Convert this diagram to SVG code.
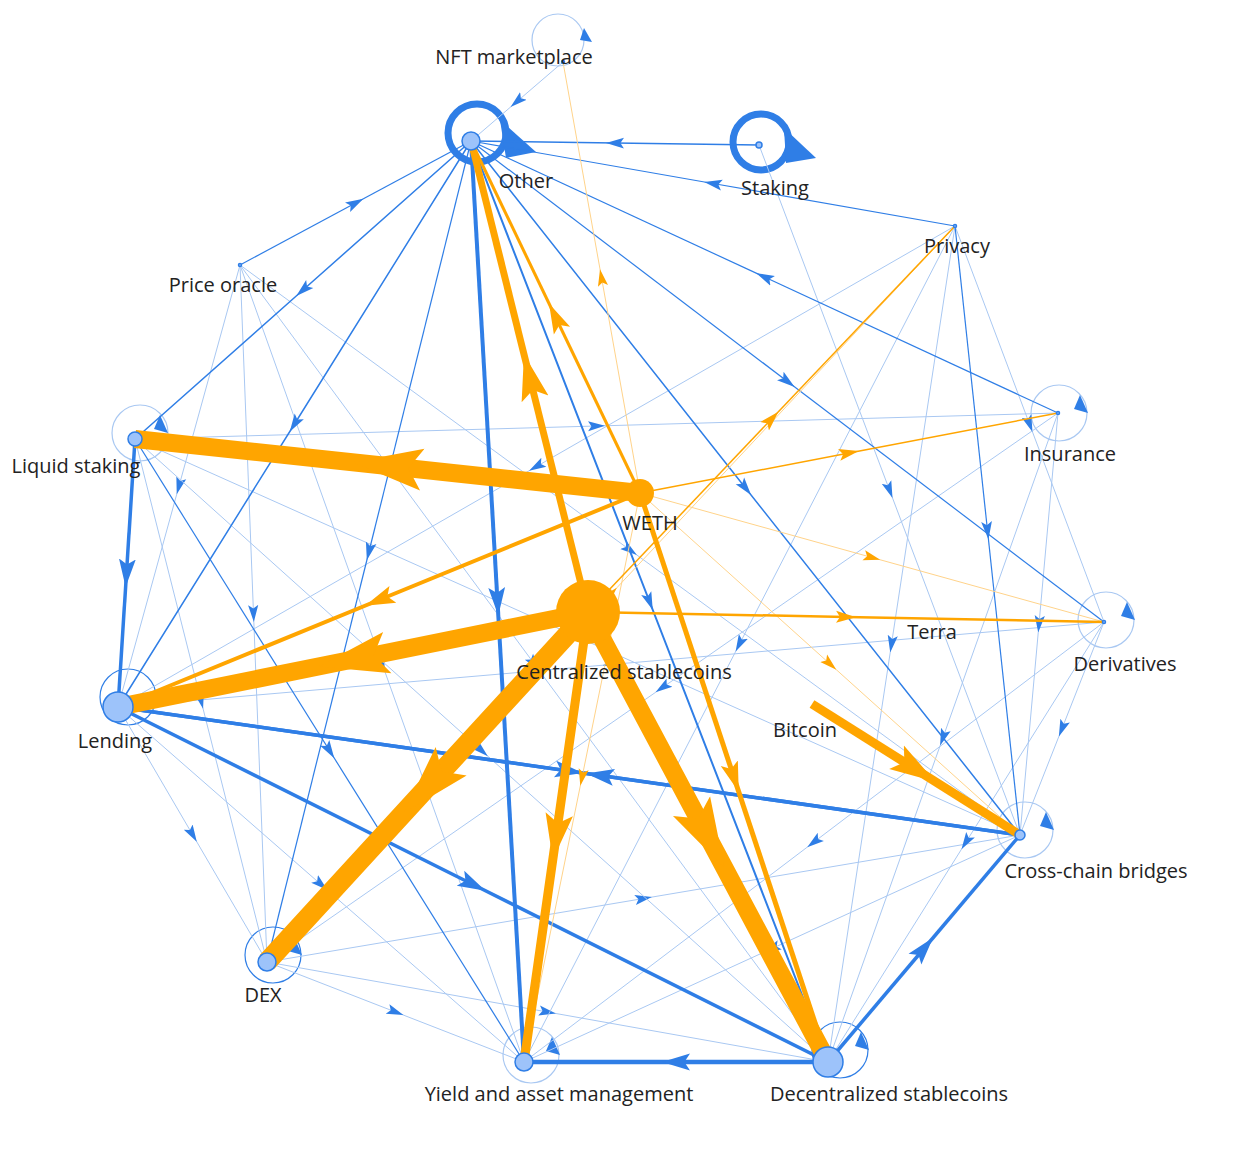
<svg xmlns="http://www.w3.org/2000/svg" width="1248" height="1151" viewBox="0 0 1248 1151">
<style>
.lb{stroke:#A9C8F2;stroke-width:1;fill:none;marker-mid:url(#alb)}
.b1{stroke:#2F7EE6;stroke-width:1.2;fill:none;marker-mid:url(#ab1)}
.b3{stroke:#2F7EE6;stroke-width:3.5;fill:none;marker-mid:url(#ab2)}
.lo{stroke:#FFD38A;stroke-width:1;fill:none;marker-mid:url(#alo)}
.o1{stroke:#FFA500;stroke-width:1.5;fill:none;marker-mid:url(#ao1)}
.o4{stroke:#FFA500;stroke-width:4;fill:none;marker-mid:url(#ao2)}
.o10{stroke:#FFA500;stroke-width:9;fill:none;marker-mid:url(#ao3)}
.o18{stroke:#FFA500;stroke-width:18;fill:none;marker-mid:url(#ao4)}
.loop{fill:none;stroke:#A9C8F2;stroke-width:1.2}
.nd{fill:#9DC3FA;stroke:#2F7EE6;stroke-width:1.5}
.lab{font-family:"Open Sans","Liberation Sans",sans-serif;font-size:20px;fill:#222}
</style>
<defs>
<marker id="alb" viewBox="0 -10 20 20" refX="10" refY="0" markerUnits="userSpaceOnUse" markerWidth="17" markerHeight="17" orient="auto"><path d="M0,-6L20,0L0,6L4,0z" fill="#2F7EE6"/></marker>
<marker id="ab1" viewBox="0 -10 20 20" refX="10" refY="0" markerUnits="userSpaceOnUse" markerWidth="18" markerHeight="18" orient="auto"><path d="M0,-6L20,0L0,6L4,0z" fill="#2F7EE6"/></marker>
<marker id="ab2" viewBox="0 -10 20 20" refX="10" refY="0" markerUnits="userSpaceOnUse" markerWidth="28" markerHeight="28" orient="auto"><path d="M0,-6L20,0L0,6L4,0z" fill="#2F7EE6"/></marker>
<marker id="alo" viewBox="0 -10 20 20" refX="10" refY="0" markerUnits="userSpaceOnUse" markerWidth="17" markerHeight="17" orient="auto"><path d="M0,-6L20,0L0,6L4,0z" fill="#FFA500"/></marker>
<marker id="ao1" viewBox="0 -10 20 20" refX="10" refY="0" markerUnits="userSpaceOnUse" markerWidth="20" markerHeight="20" orient="auto"><path d="M0,-6L20,0L0,6L4,0z" fill="#FFA500"/></marker>
<marker id="ao2" viewBox="0 -10 20 20" refX="10" refY="0" markerUnits="userSpaceOnUse" markerWidth="30" markerHeight="30" orient="auto"><path d="M0,-6L20,0L0,6L4,0z" fill="#FFA500"/></marker>
<marker id="ao3" viewBox="0 -10 20 20" refX="10" refY="0" markerUnits="userSpaceOnUse" markerWidth="46" markerHeight="46" orient="auto"><path d="M0,-6L20,0L0,6L4,0z" fill="#FFA500"/></marker>
<marker id="ao4" viewBox="0 -10 20 20" refX="10" refY="0" markerUnits="userSpaceOnUse" markerWidth="70" markerHeight="70" orient="auto"><path d="M0,-6L20,0L0,6L4,0z" fill="#FFA500"/></marker>
</defs>
<rect width="1248" height="1151" fill="#fff"/>
<g id="loops">
<circle class="loop" cx="558" cy="40" r="26"/><path d="M584,28l8,14l-12,-2z" fill="#2F7EE6"/>
<circle class="loop" cx="140" cy="433" r="28"/><path d="M160,415l8,18l-14,-4z" fill="#2F7EE6"/>
<circle class="loop" cx="1059" cy="413" r="28"/><path d="M1080,395l8,18l-14,-4z" fill="#2F7EE6"/>
<circle class="loop" cx="1106" cy="620" r="28"/><path d="M1127,602l8,18l-14,-4z" fill="#2F7EE6"/>
<circle class="loop" cx="128" cy="697" r="28" style="stroke:#2F7EE6"/>
<circle class="loop" cx="1025" cy="830" r="28"/><path d="M1046,812l8,18l-14,-4z" fill="#2F7EE6"/>
<circle class="loop" cx="273" cy="955" r="28" style="stroke:#2F7EE6"/><path d="M294,937l8,18l-14,-4z" fill="#2F7EE6"/>
<circle class="loop" cx="531" cy="1055" r="28"/><path d="M552,1037l8,18l-14,-4z" fill="#2F7EE6"/>
<circle class="loop" cx="840" cy="1050" r="28" style="stroke:#2F7EE6"/><path d="M861,1032l8,18l-14,-4z" fill="#2F7EE6"/>
<circle cx="477" cy="133" r="29" fill="none" stroke="#2F7EE6" stroke-width="7"/><path d="M500,120l36,32l-30,6z" fill="#2F7EE6"/>
<circle cx="761" cy="142" r="28" fill="none" stroke="#2F7EE6" stroke-width="7"/><path d="M784,128l32,30l-30,5z" fill="#2F7EE6"/>
</g>
<g id="connectors">
<path class="lb" d="M135,439L596.5,426L1058,413"/>
<path class="lb" d="M759,145L889.5,490L1020,835"/>
<path class="lb" d="M240,265L179,486L118,707"/>
<path class="lb" d="M240,265L253.5,613.5L267,962"/>
<path class="lb" d="M240,265L382,663.5L524,1062"/>
<path class="lb" d="M240,265L534,663.5L828,1062"/>
<path class="lb" d="M118,707L192.5,834.5L267,962"/>
<path class="lb" d="M118,707L321,884.5L524,1062"/>
<path class="lb" d="M267,962L643.5,898.5L1020,835"/>
<path class="lb" d="M267,962L395.5,1012L524,1062"/>
<path class="lb" d="M267,962L547.5,1012L828,1062"/>
<path class="lb" d="M1020,835L772,948.5L524,1062"/>
<path class="lb" d="M1104,622L611,664.5L118,707"/>
<path class="lb" d="M1058,413L943,737.5L828,1062"/>
<path class="lb" d="M1058,413L1039,624L1020,835"/>
<path class="lb" d="M1104,622L966,842L828,1062"/>
<path class="lb" d="M955,226L536.5,466.5L118,707"/>
<path class="lb" d="M955,226L1029.5,424L1104,622"/>
<path class="lb" d="M1104,622L1062,728.5L1020,835"/>
<path class="lb" d="M1104,622L814,842L524,1062"/>
<path class="lb" d="M135,439L481.5,750.5L828,1062"/>
<path class="lb" d="M135,439L201,700.5L267,962"/>
<path class="lb" d="M955,226L739.5,644L524,1062"/>
<path class="lb" d="M1020,835L577.5,637L135,439"/>
<path class="lb" d="M240,265L630,550L1020,835"/>
<path class="lb" d="M563,62L517,101.5L471,141"/>
<path class="lb" d="M955,226L891.5,644L828,1062"/>
<path class="lb" d="M1058,413L662.5,687.5L267,962"/>
<path class="b1" d="M135,439L329.5,750.5L524,1062"/>
<path class="b1" d="M471,141L649.5,601.5L828,1062" style="stroke-width:2"/>
<path class="b1" d="M759,145L615,143L471,141" style="stroke-width:1.5"/>
<path class="b1" d="M955,226L713,183.5L471,141"/>
<path class="b1" d="M240,265L355.5,203L471,141"/>
<path class="b1" d="M471,141L303,290L135,439" style="stroke-width:1.5"/>
<path class="b1" d="M471,141L294.5,424L118,707" style="stroke-width:1.5"/>
<path class="b1" d="M471,141L369,551.5L267,962"/>
<path class="b1" d="M1058,413L764.5,277L471,141"/>
<path class="b1" d="M471,141L787.5,381.5L1104,622"/>
<path class="b1" d="M471,141L745.5,488L1020,835" style="stroke-width:1.5"/>
<path class="b1" d="M955,226L987.5,530.5L1020,835"/>
<path class="b3" d="M471,141L497.5,601.5L524,1062" style="stroke-width:4"/>
<path class="b3" d="M135,439L126.5,573L118,707"/>
<path class="b3" d="M118,707L569,771L1020,835"/>
<path class="b3" d="M1020,835L600,775.4L118,707"/>
<path class="b3" d="M118,707L473,884.5L828,1062"/>
<path class="b3" d="M828,1062L676,1062L524,1062" style="stroke-width:4.5"/>
<path class="b3" d="M828,1062L924,948.5L1020,835"/>
<path class="lo" d="M640,493L872,557.5L1104,622"/>
<path class="lo" d="M640,493L601.5,277.5L563,62"/>
<path class="lo" d="M267,962L611,594L955,226"/>
<path class="lo" d="M640,493L830,664L1020,835"/>
<path class="lo" d="M640,493L582,777.5L524,1062"/>
<path class="o1" d="M588,612L771.5,419L955,226"/>
<path class="o1" d="M640,493L849,453L1058,413"/>
<path class="o1" d="M588,612L846,617L1104,622" style="stroke-width:2.5"/>
<path class="o4" d="M640,493L379,600L118,707"/>
<path class="o4" d="M640,493L555.5,317L471,141" style="stroke-width:3"/>
<path class="o4" d="M640,493L734,777.5L828,1062" style="stroke-width:5"/>
<path class="o10" d="M588,612L529.5,376.5L471,141" style="stroke-width:7"/>
<path class="o10" d="M588,612L556,837L524,1062"/>
<path class="o10" d="M812,704L916,769.5L1020,835"/>
<path class="o18" d="M640,493L387.5,466L135,439"/>
<path class="o18" d="M588,612L353,659.5L118,707"/>
<path class="o18" d="M588,612L427.5,787L267,962" style="stroke-width:20"/>
<path class="o18" d="M588,612L708,837L828,1062"/>
</g>
<g id="n-nft"><circle class="nd" cx="563" cy="62" r="1.5"/><text class="lab" x="514" y="64" text-anchor="middle">NFT marketplace</text></g>
<g id="n-other"><circle class="nd" cx="471" cy="141" r="9"/><text class="lab" x="526" y="188" text-anchor="middle">Other</text></g>
<g id="n-staking"><circle class="nd" cx="759" cy="145" r="3"/><text class="lab" x="775" y="195" text-anchor="middle">Staking</text></g>
<g id="n-privacy"><circle class="nd" cx="955" cy="226" r="1.5"/><text class="lab" x="957" y="253" text-anchor="middle">Privacy</text></g>
<g id="n-oracle"><circle class="nd" cx="240" cy="265" r="1.5"/><text class="lab" x="223" y="292" text-anchor="middle">Price oracle</text></g>
<g id="n-ls"><circle class="nd" cx="135" cy="439" r="7"/><text class="lab" x="76" y="473" text-anchor="middle">Liquid staking</text></g>
<g id="n-ins"><circle class="nd" cx="1058" cy="413" r="1.5"/><text class="lab" x="1070" y="461" text-anchor="middle">Insurance</text></g>
<g id="n-weth"><circle cx="640" cy="493" r="14" fill="#FFA500"/><text class="lab" x="650" y="530" text-anchor="middle">WETH</text></g>
<g id="n-cs"><circle cx="588" cy="612" r="32" fill="#FFA500"/><text class="lab" x="624" y="679" text-anchor="middle">Centralized stablecoins</text></g>
<g id="n-der"><circle class="nd" cx="1104" cy="622" r="1.5"/><text class="lab" x="1125" y="671" text-anchor="middle">Derivatives</text></g>
<g id="n-terra"><text class="lab" x="932" y="639" text-anchor="middle">Terra</text></g>
<g id="n-btc"><text class="lab" x="805" y="737" text-anchor="middle">Bitcoin</text></g>
<g id="n-lend"><circle class="nd" cx="118" cy="707" r="15"/><text class="lab" x="115" y="748" text-anchor="middle">Lending</text></g>
<g id="n-cc"><circle class="nd" cx="1020" cy="835" r="5"/><text class="lab" x="1096" y="878" text-anchor="middle">Cross-chain bridges</text></g>
<g id="n-dex"><circle class="nd" cx="267" cy="962" r="9"/><text class="lab" x="263" y="1002" text-anchor="middle">DEX</text></g>
<g id="n-yield"><circle class="nd" cx="524" cy="1062" r="9"/><text class="lab" x="559" y="1101" text-anchor="middle">Yield and asset management</text></g>
<g id="n-ds"><circle class="nd" cx="828" cy="1062" r="15"/><text class="lab" x="889" y="1101" text-anchor="middle">Decentralized stablecoins</text></g>
</svg>
